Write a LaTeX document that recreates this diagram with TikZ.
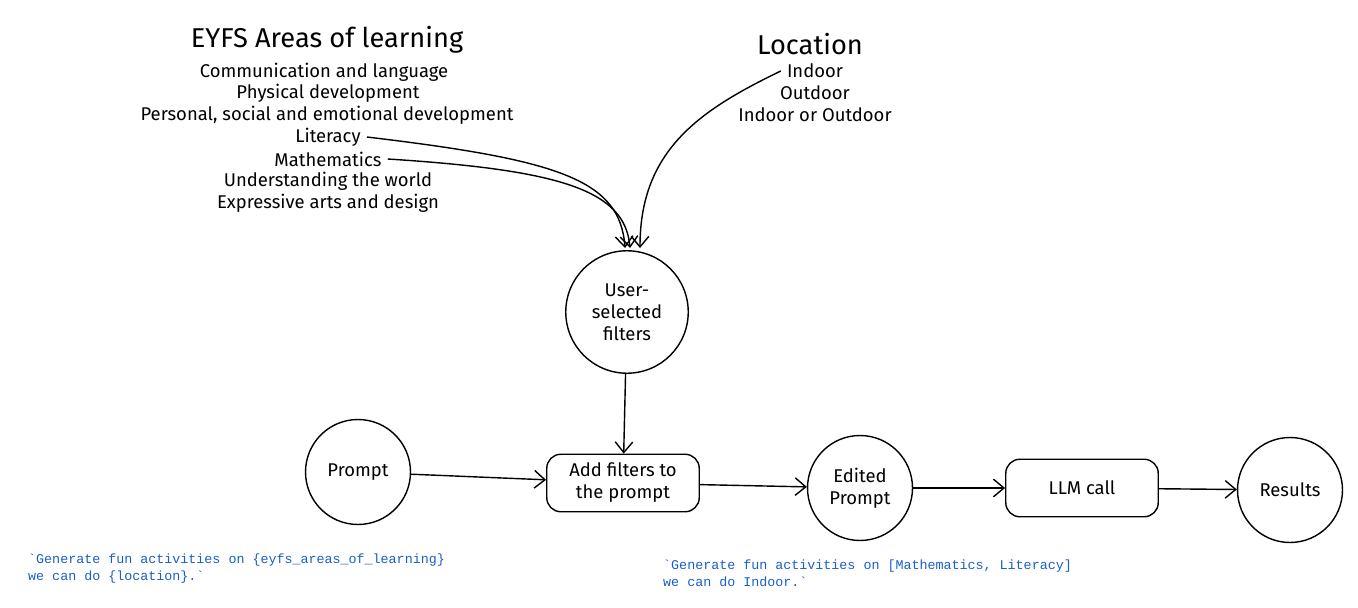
\documentclass[tikz,border=0pt]{standalone}
\usepackage{fontspec}
\setmainfont{Fira Sans}
\newfontfamily\codefont{Liberation Mono}
\usetikzlibrary{arrows.meta}
\definecolor{codeblue}{RGB}{25,95,200}
\tikzset{
	blob/.style={draw,thick,circle,minimum size=2.1cm,align=center,font=\fontsize{10.5}{12.5}\selectfont},
	box/.style={draw,thick,rounded corners=8pt,minimum width=3.05cm,minimum height=1.15cm,align=center,font=\fontsize{10.5}{12.5}\selectfont},
	flow/.style={thick,-{Straight Barb[length=6pt,width=10pt]}},
	item/.style={font=\fontsize{10.5}{12.5}\selectfont},
	head/.style={font=\fontsize{15.5}{18}\selectfont},
	code/.style={text=codeblue,font=\codefont\fontsize{7.6}{9.5}\selectfont,align=left,anchor=north west}
}
\begin{document}
\begin{tikzpicture}[x=0.02cm,y=-0.02cm]
		\useasboundingbox (0,0) rectangle (1358,608);
		% areas of learning
		\node[head] (eyfs) at (327,40) {EYFS Areas of learning};
		\node[item] (comm) at (324,72) {Communication and language};
		\node[item] (phys) at (328,93) {Physical development};
		\node[item] (pers) at (327,115) {Personal, social and emotional development};
		\node[item] (lit) at (328,137) {Literacy};
		\node[item] (math) at (328,159) {Mathematics};
		\node[item] (world) at (328,181) {Understanding the world};
		\node[item] (arts) at (328,203) {Expressive arts and design};
		% location
		\node[head] (loc) at (810,44) {Location};
		\node[item] (in) at (815,71) {Indoor};
		\node[item] (out) at (815,93) {Outdoor};
		\node[item] (inout) at (815,115) {Indoor or Outdoor};
		% flow
		\node[blob,minimum size=2.45cm] (filters) at (627,312) {User-\\selected\\filters};
		\node[blob] (prompt) at (358,472) {Prompt};
		\node[box] (add) at (623,483) {Add filters to\\the prompt};
		\node[blob] (edited) at (860,488) {Edited\\Prompt};
		\node[box] (llm) at (1082,488) {LLM call};
		\node[blob] (res) at (1290,490) {Results};
		\draw[flow] (lit.east) .. controls (560,160) and (620,180) .. (625,248);
		\draw[flow] (math.east) .. controls (560,170) and (625,190) .. (630,248);
		\draw[flow] (in.west) .. controls (700,110) and (640,150) .. (640,248);
		\draw[flow] (filters) -- (add);
		\draw[flow] (prompt) -- (add);
		\draw[flow] (add) -- (edited);
		\draw[flow] (edited) -- (llm);
		\draw[flow] (llm) -- (res);
		% templates
		\node[code] (tpl) at (22,548) {`Generate fun activities on \{eyfs\_areas\_of\_learning\}\\ we can do \{location\}.`};
		\node[code] (filled) at (657,554) {`Generate fun activities on [Mathematics, Literacy]\\we can do Indoor.`};
	\end{tikzpicture}
\end{document}
